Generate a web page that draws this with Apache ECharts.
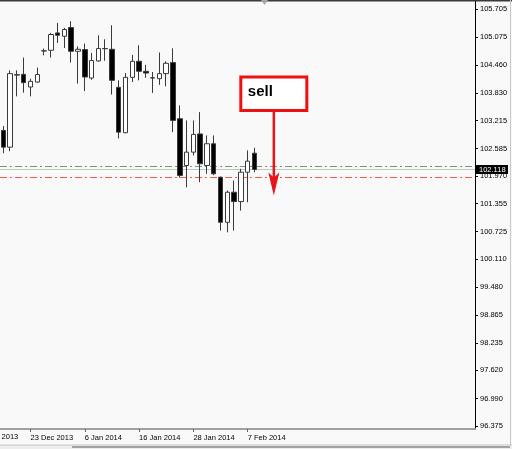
<!DOCTYPE html>
<html><head><meta charset="utf-8">
<script src="https://cdn.jsdelivr.net/npm/echarts@6/dist/echarts.min.js"></script>
<style>html,body{margin:0;padding:0;background:#f9f9f9;overflow:hidden}#c{width:512px;height:449px}</style>
</head><body><div id="c"></div>
<script>
// ---- data ----
const dates = ['17 Dec 2013','18 Dec 2013','19 Dec 2013','20 Dec 2013','23 Dec 2013','24 Dec 2013','26 Dec 2013','27 Dec 2013','30 Dec 2013','31 Dec 2013',
  '2 Jan 2014','3 Jan 2014','6 Jan 2014','7 Jan 2014','8 Jan 2014','9 Jan 2014','10 Jan 2014','13 Jan 2014','14 Jan 2014','15 Jan 2014',
  '16 Jan 2014','17 Jan 2014','20 Jan 2014','21 Jan 2014','22 Jan 2014','23 Jan 2014','24 Jan 2014','27 Jan 2014','28 Jan 2014','29 Jan 2014',
  '30 Jan 2014','31 Jan 2014','3 Feb 2014','4 Feb 2014','5 Feb 2014','6 Feb 2014','7 Feb 2014','10 Feb 2014'];
const opens  = [102.991,102.617,104.230,104.247,103.963,104.075,104.770,104.786,105.174,105.100,
  105.295,104.763,104.801,104.164,104.546,104.820,104.808,103.956,102.940,104.180,
  104.539,104.315,104.170,104.151,104.263,104.510,103.254,102.207,102.505,102.913,
  102.207,102.693,101.944,100.935,101.608,101.399,102.056,102.482];
const closes = [102.617,104.263,104.240,104.061,104.090,104.241,104.775,105.138,105.122,105.250,
  104.763,104.808,104.187,104.555,104.824,104.826,104.113,102.953,104.180,104.539,
  104.315,104.276,104.165,104.263,104.494,103.216,101.982,102.505,102.902,102.245,
  102.693,102.020,100.935,101.608,101.399,102.056,102.303,102.118];
const lows   = [102.482,102.527,103.754,103.837,103.754,104.060,104.673,104.622,104.949,104.837,
  104.510,104.039,103.873,104.124,104.530,104.550,103.794,102.812,102.930,104.075,
  104.113,104.169,103.832,104.012,103.978,102.953,101.937,101.720,102.431,101.832,
  102.020,101.990,100.749,100.711,100.749,101.197,101.383,102.056];
const highs  = [103.088,104.337,104.337,104.622,104.147,104.398,104.824,105.174,105.398,105.286,
  105.436,104.875,104.936,104.725,105.122,105.032,105.346,104.113,104.276,104.680,
  104.898,104.460,104.299,104.736,104.539,104.830,103.552,103.216,103.216,103.402,
  102.879,102.879,101.960,101.646,101.870,102.133,102.543,102.604];
const padCount = 32;            // empty slots to the right (chart shift)
const labelDates = ['23 Dec 2013','6 Jan 2014','16 Jan 2014','28 Jan 2014','7 Feb 2014'];
const hiddenLeftLabel = '11 Dec 2013';
const yTickLabels = ['105.705','105.075','104.460','103.830','103.215','102.585','101.970','101.355',
  '100.725','100.110','99.480','98.865','98.235','97.620','96.990','96.375'];
const bidPrice = 102.118;
const greenLevel = 102.200;
const redLevel = 101.950;
const sellText = 'sell';
const sellIndex = 40;
const sellBoxTop = 104.187, sellBoxBottom = 103.440, sellArrowTip = 101.534;

// ---- build ----
const cats = dates.concat(Array.from({length: padCount}, (_, i) => 'pad' + i));
const ohlc = dates.map((d, i) => [opens[i], closes[i], lows[i], highs[i]]);
const tickVals = yTickLabels.map(Number);
const FONT = 'Liberation Sans';

const chart = echarts.init(document.getElementById('c'), null, {renderer: 'canvas'});
chart.setOption({
  animation: false,
  backgroundColor: '#f9f9f9',
  grid: {left: -1, right: 37, top: 0, bottom: 20, containLabel: false},
  xAxis: {
    type: 'category', data: cats, boundaryGap: true,
    axisLine: {lineStyle: {color: '#a0a0a0', width: 2}},
    axisTick: {show: true, alignWithLabel: true, length: 3, lineStyle: {color: '#666'},
      interval: (i, v) => labelDates.includes(v)},
    axisLabel: {interval: (i, v) => labelDates.includes(v), align: 'left', margin: 5,
      color: '#000', fontFamily: FONT, fontSize: 7.5, formatter: v => v},
    splitLine: {show: false}
  },
  yAxis: {
    type: 'value', position: 'right', scale: true,
    min: 96.308, max: 105.911,
    axisLine: {show: true, lineStyle: {color: '#000', width: 1}},
    axisTick: {show: true, length: 3, customValues: tickVals, lineStyle: {color: '#000'}},
    axisLabel: {customValues: tickVals, margin: 5, color: '#000', fontFamily: FONT, fontSize: 7.5,
      formatter: v => v.toFixed(3)},
    splitLine: {show: false}
  },
  series: [{
    type: 'candlestick', data: ohlc, barWidth: 5, z: 4,
    itemStyle: {color: '#ffffff', color0: '#000000', borderColor: '#3a3a3a', borderColor0: '#3a3a3a',
      borderColorDoji: '#3a3a3a', borderWidth: 1}
  }]
});

// level lines and annotation positioned through the chart's own scales
const px = v => chart.convertToPixel({seriesIndex: 0}, [sellIndex, v]);
const rect = chart.getModel().getComponent('grid', 0).coordinateSystem.getRect();
const gx0 = Math.max(0, rect.x), gx1 = rect.x + rect.width;
const yBid = Math.round(px(bidPrice)[1]) + 0.5;
const yGreen = Math.round(px(greenLevel)[1]) + 0.5;
const yRed = Math.round(px(redLevel)[1]) + 0.5;
const pTop = px(sellBoxTop), pBot = px(sellBoxBottom), pTip = px(sellArrowTip);
const p4 = chart.convertToPixel({seriesIndex: 0}, [4, 100]);
const p5 = chart.convertToPixel({seriesIndex: 0}, [5, 100]);
const slot = p5[0] - p4[0];
const cx = pTop[0] - 1;
const dash = [7, 3, 2, 3];
chart.setOption({
  graphic: [
    {type: 'line', shape: {x1: gx0, y1: yBid, x2: gx1, y2: yBid}, style: {stroke: '#c4c4c4', lineWidth: 1}, z: 3},
    {type: 'line', shape: {x1: gx0, y1: yGreen, x2: gx1, y2: yGreen}, style: {stroke: '#6f9c6f', lineWidth: 1, lineDash: dash}, z: 3},
    {type: 'line', shape: {x1: gx0, y1: yRed, x2: gx1, y2: yRed}, style: {stroke: '#ff5a45', lineWidth: 1, lineDash: dash}, z: 3},
    {type: 'rect', shape: {x: gx1 + 1, y: yBid - 4.5, width: 32, height: 9}, style: {fill: '#000'}, z: 120},
    {type: 'text', x: gx1 + 4, y: yBid, style: {text: bidPrice.toFixed(3), fill: '#fff', font: '7.5px "Liberation Sans"', textAlign: 'left', textVerticalAlign: 'middle'}, z: 121},
    {type: 'rect', shape: {x: 0, y: 0, width: 512, height: 1.5}, style: {fill: '#3a3a3a'}, z: 100},
    {type: 'polygon', shape: {points: [[261, 0], [268, 0], [264.5, 5]]}, style: {fill: '#a8a8a8'}, z: 100},
    {type: 'line', shape: {x1: 510.5, y1: 0, x2: 510.5, y2: 445}, style: {stroke: '#c8c8c8', lineWidth: 1}, z: 100},
    {type: 'rect', shape: {x: 0, y: 445, width: 512, height: 4}, style: {fill: '#ededed'}, z: 99},
    {type: 'line', shape: {x1: 0, y1: 445, x2: 512, y2: 445}, style: {stroke: '#c8c8c8', lineWidth: 1}, z: 100},
    {type: 'line', shape: {x1: 72, y1: 447, x2: 510, y2: 447}, style: {stroke: '#8a8a8a', lineWidth: 1.5}, z: 100},
    {type: 'text', x: p4[0] - 8 * slot, y: 433, style: {text: hiddenLeftLabel, fill: '#000', font: '7.5px "Liberation Sans"', textAlign: 'left', textVerticalAlign: 'top'}, z: 100},
    {type: 'rect', shape: {x: cx - 33, y: pTop[1], width: 66, height: pBot[1] - pTop[1]},
      style: {fill: '#ffffff', stroke: '#ee1111', lineWidth: 3}, z: 110},
    {type: 'text', x: cx - 26, y: (pTop[1] + pBot[1]) / 2 - 2,
      style: {text: sellText, fill: '#000', font: 'bold 15px "Liberation Sans"', textAlign: 'left', textVerticalAlign: 'middle'}, z: 111},
    {type: 'line', shape: {x1: cx, y1: pBot[1] + 1, x2: cx, y2: pTip[1] - 18},
      style: {stroke: '#e8141c', lineWidth: 2.5}, z: 110},
    {type: 'polygon', shape: {points: [[cx - 5.5, pTip[1] - 23], [cx, pTip[1] - 18], [cx + 5.5, pTip[1] - 23], [cx, pTip[1]]]},
      style: {fill: '#e8141c'}, z: 110}
  ]
});
</script></body></html>
